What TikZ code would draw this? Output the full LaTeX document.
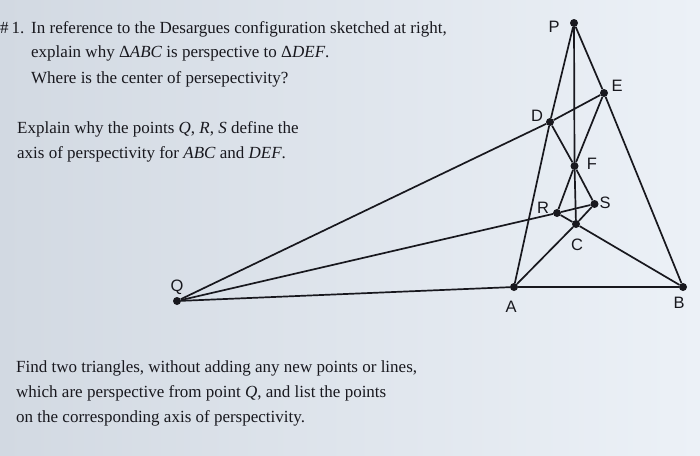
\documentclass[tikz,border=0pt]{standalone}
\usepackage{fontspec}
\setmainfont{Liberation Serif}
\newfontfamily\labelfont{Liberation Sans}
\definecolor{ink}{RGB}{24,24,30}
\definecolor{paperL}{RGB}{210,217,226}
\definecolor{paperR}{RGB}{236,241,247}

\begin{document}
\begin{tikzpicture}[x=1pt, y=-1pt,
    pt/.style={circle, fill=ink, inner sep=0pt, minimum size=8pt},
    lbl/.style={font=\labelfont\fontsize{16.5}{16.5}\selectfont, text=ink, inner sep=0pt},
    txt/.style={font=\fontsize{17}{20}\selectfont, text=ink, anchor=base west, inner sep=0pt},
    edge/.style={ink, line width=1.7pt}]
    \shade[left color=paperL, right color=paperR] (0,0) rectangle (700,455);
    \useasboundingbox (0,0) rectangle (700,455);
    % question text
    \node[txt] (num) at (0,33) {\#\,1.};
    \node[txt] (t1) at (31,33) {In reference to the Desargues configuration sketched at right,};
    \node[txt] (t2) at (31,57) {explain why Δ\textit{ABC} is perspective to Δ\textit{DEF}.};
    \node[txt] (t3) at (31,83) {Where is the center of persepectivity?};
    \node[txt] (t4) at (17,133) {Explain why the points \textit{Q}, \textit{R}, \textit{S} define the};
    \node[txt] (t5) at (17,158) {axis of perspectivity for \textit{ABC} and \textit{DEF}.};
    \node[txt] (t6) at (16,372) {Find two triangles, without adding any new points or lines,};
    \node[txt] (t7) at (16,397) {which are perspective from point \textit{Q}, and list the points};
    \node[txt] (t8) at (16,422) {on the corresponding axis of perspectivity.};
    % points
    \node[pt] (P) at (574,23) {};
    \node[pt] (E) at (604,93) {};
    \node[pt] (D) at (550,122) {};
    \node[pt] (F) at (574.5,166) {};
    \node[pt] (R) at (557,213) {};
    \node[pt] (S) at (594.5,204) {};
    \node[pt] (C) at (576,224) {};
    \node[pt] (A) at (514,287) {};
    \node[pt] (B) at (683,287) {};
    \node[pt] (Q) at (177,301) {};
    \node[lbl] (lP) at (554,27) {P};
    \node[lbl] (lE) at (617,86) {E};
    \node[lbl] (lD) at (537,116) {D};
    \node[lbl] (lF) at (592,164) {F};
    \node[lbl] (lR) at (543,208) {R};
    \node[lbl] (lS) at (605,203) {S};
    \node[lbl] (lC) at (577,245) {C};
    \node[lbl] (lA) at (511,307) {A};
    \node[lbl] (lB) at (679,303) {B};
    \node[lbl] (lQ) at (177,287) {Q};
    % lines
    \draw[edge] (P) -- (D) -- (A);
    \draw[edge] (P) -- (F) -- (C);
    \draw[edge] (P) -- (E) -- (B);
    \draw[edge] (Q) -- (D) -- (E);
    \draw[edge] (Q) -- (A) -- (B);
    \draw[edge] (Q) -- (R) -- (S);
    \draw[edge] (D) -- (F) -- (S);
    \draw[edge] (E) -- (F) -- (R);
    \draw[edge] (A) -- (C) -- (S);
    \draw[edge] (B) -- (C) -- (R);
\end{tikzpicture}
\end{document}
